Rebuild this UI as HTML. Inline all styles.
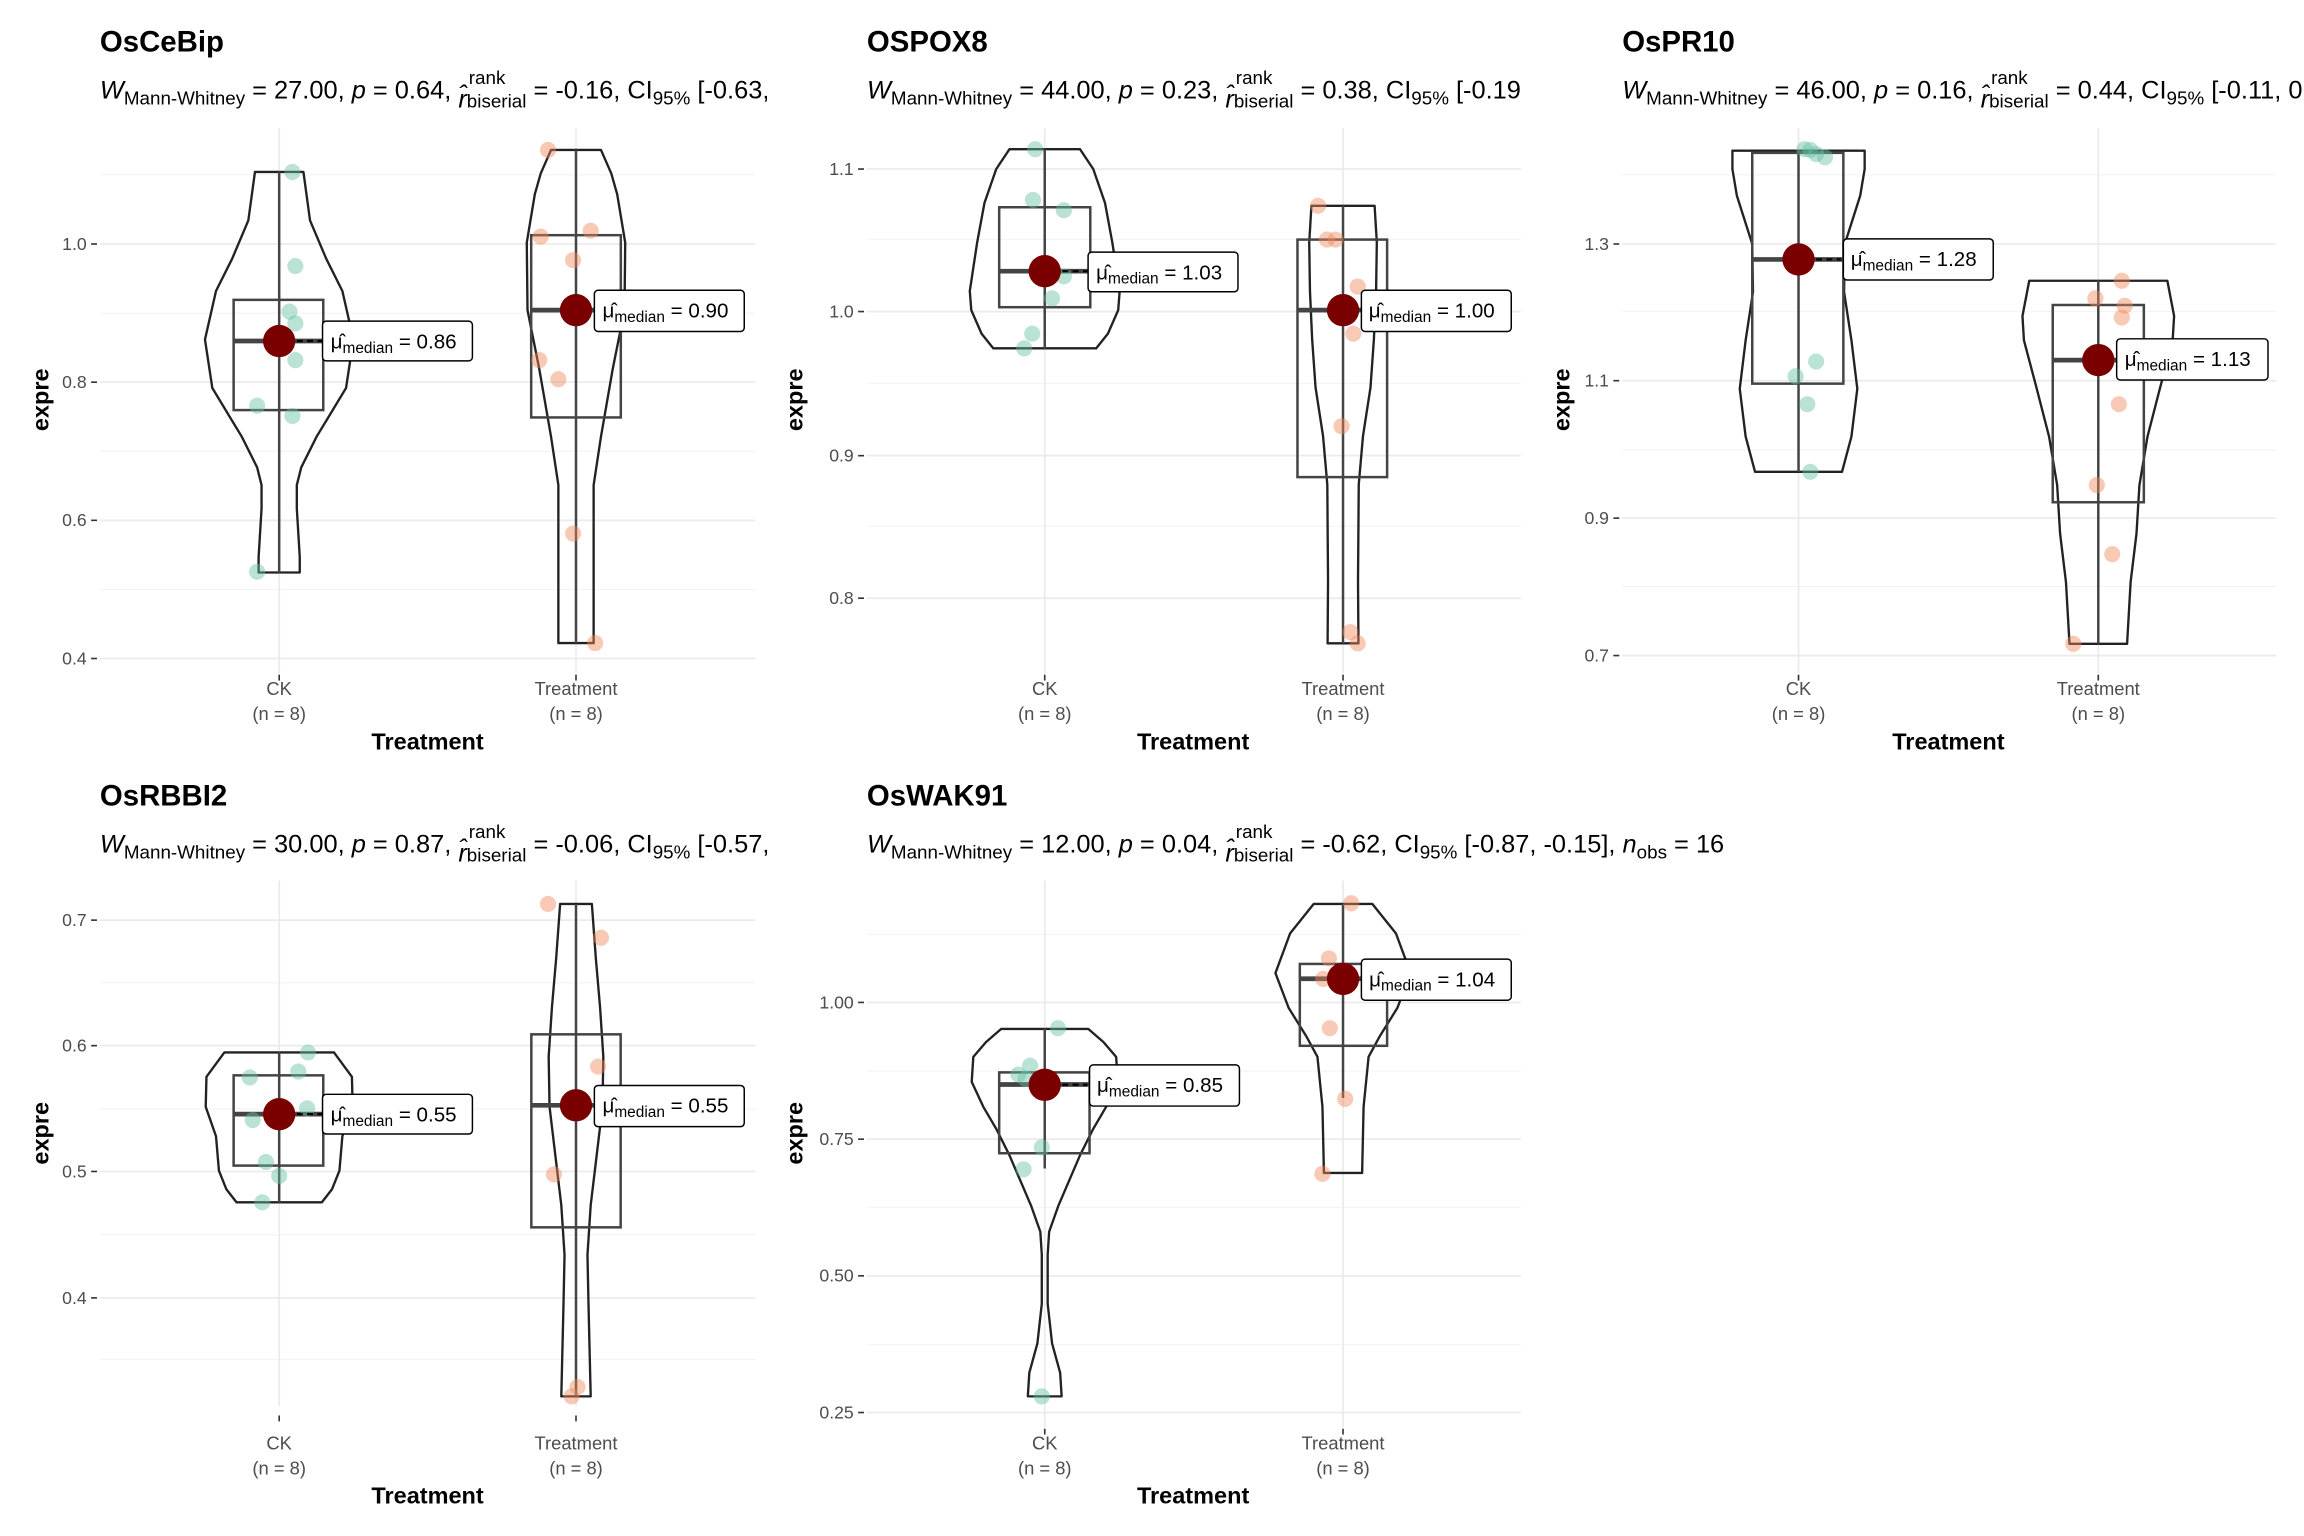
<!DOCTYPE html>
<html><head><meta charset="utf-8">
<style>
html,body{margin:0;padding:0;background:#fff;}
#root{position:relative;width:1568px;height:1045px;transform:scale(1.46939,1.46986);transform-origin:0 0;font-family:"Liberation Sans",Arial,sans-serif;}
.panel{position:absolute;overflow:hidden;}
.panel svg{position:absolute;left:0;top:0;}
.sub{position:absolute;left:68px;top:46px;white-space:nowrap;font-size:17.3px;line-height:20px;color:#000;}
.sub i{font-style:italic;}
.sub .s{font-size:12.8px;vertical-align:-4px;}
.rr{display:inline-block;vertical-align:-6px;font-size:12.8px;line-height:14px;text-align:left;}
.rr i{font-size:17.3px;}
.lab{position:absolute;box-sizing:border-box;border:1px solid #000;border-radius:3px;background:#fff;font-size:14px;white-space:nowrap;padding-left:5px;color:#000;}
.lab .s{font-size:10.5px;vertical-align:-3px;}
text{font-family:"Liberation Sans",Arial,sans-serif;}
.tl{font-size:12px;fill:#4d4d4d;text-anchor:end;}
.xl{font-size:12.5px;fill:#4d4d4d;text-anchor:middle;}
.at{font-size:16px;font-weight:bold;fill:#000;text-anchor:middle;}
.tt{font-size:20px;font-weight:bold;fill:#000;}
.gM{stroke:#ebebeb;stroke-width:1.2;}
.gm{stroke:#f2f2f2;stroke-width:0.7;}
.tk{stroke:#333;stroke-width:1.1;}
.vio{fill:none;stroke:#222;stroke-width:1.6;stroke-linejoin:round;}
.box{fill:none;stroke:#444;stroke-width:1.7;}
.med{stroke:#444;stroke-width:3.2;}
.ck{fill:#66c2a5;opacity:0.45;}
.tr{fill:#f08a5d;opacity:0.45;}
.dot{fill:#7a0000;}
.dl{stroke:#000;stroke-width:1.5;stroke-dasharray:4,3;}
</style></head><body>
<div id="root">

<!-- Panel 1 -->
<div class="panel" style="left:0;top:0;width:522px;height:513px;">
<svg width="522" height="513">
<text class="tt" x="68" y="35">OsCeBip</text>
<g>
<line class="gm" x1="68" x2="514" y1="119" y2="119"/><line class="gm" x1="68" x2="514" y1="213" y2="213"/><line class="gm" x1="68" x2="514" y1="307" y2="307"/><line class="gm" x1="68" x2="514" y1="401" y2="401"/>
<line class="gM" x1="68" x2="514" y1="166" y2="166"/><line class="gM" x1="68" x2="514" y1="260" y2="260"/><line class="gM" x1="68" x2="514" y1="354" y2="354"/><line class="gM" x1="68" x2="514" y1="448" y2="448"/>
<line class="gM" x1="190" x2="190" y1="87" y2="458"/><line class="gM" x1="392" x2="392" y1="87" y2="458"/>
<line class="tk" x1="62" x2="66" y1="166" y2="166"/><line class="tk" x1="62" x2="66" y1="260" y2="260"/><line class="tk" x1="62" x2="66" y1="354" y2="354"/><line class="tk" x1="62" x2="66" y1="448" y2="448"/>
<line class="tk" x1="190" x2="190" y1="459" y2="463"/><line class="tk" x1="392" x2="392" y1="459" y2="463"/>
<text class="tl" x="59" y="170">1.0</text><text class="tl" x="59" y="264">0.8</text><text class="tl" x="59" y="358">0.6</text><text class="tl" x="59" y="452">0.4</text>
<text class="xl" x="190" y="473">CK</text><text class="xl" x="190" y="490">(n = 8)</text>
<text class="xl" x="392" y="473">Treatment</text><text class="xl" x="392" y="490">(n = 8)</text>
<text class="at" x="291" y="510">Treatment</text>
<text class="at" transform="translate(33,272) rotate(-90)">expre</text>
</g>
<g transform="translate(190,0)"><path id="v1a" class="vio" d="M0,117 L16.5,117 L21,150 L32,176 L43,198 L50.5,231 L45.5,264 L34,283 L25.5,297 L15,318 L12,330 L12,346 L14,379 L14,389.5 L0,389.5"/><use href="#v1a" transform="scale(-1,1)"/></g>
<g transform="translate(392,0)"><path id="v1b" class="vio" d="M0,102 L17,102 L24,118 L28,132 L33.5,165 L33,211 L25,251 L17,297 L12,330 L12,395 L12,437.5 L0,437.5"/><use href="#v1b" transform="scale(-1,1)"/></g>
<line class="box" x1="190" x2="190" y1="117" y2="389.5"/><rect class="box" x="159" y="204" width="61" height="75"/><line class="med" x1="159" x2="220" y1="232" y2="232"/>
<line class="box" x1="392" x2="392" y1="102" y2="437.5"/><rect class="box" x="361.5" y="160" width="61" height="124"/><line class="med" x1="361.5" x2="422.5" y1="211" y2="211"/>
<circle class="ck" cx="199" cy="117" r="5.5"/><circle class="ck" cx="201" cy="181" r="5.5"/><circle class="ck" cx="197" cy="212" r="5.5"/><circle class="ck" cx="201" cy="220" r="5.5"/><circle class="ck" cx="201" cy="245" r="5.5"/><circle class="ck" cx="175" cy="276" r="5.5"/><circle class="ck" cx="199" cy="283" r="5.5"/><circle class="ck" cx="175" cy="389" r="5.5"/>
<circle class="tr" cx="373" cy="102" r="5.5"/><circle class="tr" cx="368" cy="161" r="5.5"/><circle class="tr" cx="402" cy="157" r="5.5"/><circle class="tr" cx="390" cy="177" r="5.5"/><circle class="tr" cx="367" cy="245" r="5.5"/><circle class="tr" cx="380" cy="258" r="5.5"/><circle class="tr" cx="390" cy="363" r="5.5"/><circle class="tr" cx="405" cy="437.5" r="5.5"/>
<line class="dl" x1="195" x2="219" y1="232" y2="232"/><line class="dl" x1="397" x2="404" y1="211" y2="211"/>
<circle class="dot" cx="190" cy="232" r="11"/><circle class="dot" cx="392" cy="211" r="11"/>
</svg>
<div class="sub"><i>W</i><span class="s">Mann-Whitney</span> = 27.00, <i>p</i> = 0.64, <span class="rr"><span>&nbsp;&nbsp;rank</span><br><i>r̂</i>biserial</span> = -0.16, CI<span class="s">95%</span> [-0.63, 0.42], <i>n</i><span class="s">obs</span> = 16</div>
<div class="lab" style="left:219px;top:218px;width:103px;height:28px;line-height:26px;">μ̂<span class="s">median</span> = 0.86</div>
<div class="lab" style="left:404px;top:197px;width:103px;height:29px;line-height:27px;">μ̂<span class="s">median</span> = 0.90</div>
</div>

<!-- Panel 2 -->
<div class="panel" style="left:522px;top:0;width:514px;height:513px;">
<svg width="514" height="513">
<text class="tt" x="68" y="35">OSPOX8</text>
<line class="gm" x1="68" x2="513" y1="163" y2="163"/><line class="gm" x1="68" x2="513" y1="261" y2="261"/><line class="gm" x1="68" x2="513" y1="358" y2="358"/>
<line class="gM" x1="68" x2="513" y1="115" y2="115"/><line class="gM" x1="68" x2="513" y1="212" y2="212"/><line class="gM" x1="68" x2="513" y1="310" y2="310"/><line class="gM" x1="68" x2="513" y1="407" y2="407"/>
<line class="gM" x1="189" x2="189" y1="87" y2="458"/><line class="gM" x1="392" x2="392" y1="87" y2="458"/>
<line class="tk" x1="62" x2="66" y1="115" y2="115"/><line class="tk" x1="62" x2="66" y1="212" y2="212"/><line class="tk" x1="62" x2="66" y1="310" y2="310"/><line class="tk" x1="62" x2="66" y1="407" y2="407"/>
<line class="tk" x1="189" x2="189" y1="459" y2="463"/><line class="tk" x1="392" x2="392" y1="459" y2="463"/>
<text class="tl" x="59" y="119">1.1</text><text class="tl" x="59" y="216">1.0</text><text class="tl" x="59" y="314">0.9</text><text class="tl" x="59" y="411">0.8</text>
<text class="xl" x="189" y="473">CK</text><text class="xl" x="189" y="490">(n = 8)</text>
<text class="xl" x="392" y="473">Treatment</text><text class="xl" x="392" y="490">(n = 8)</text>
<text class="at" x="290" y="510">Treatment</text>
<text class="at" transform="translate(24,272) rotate(-90)">expre</text>
<g transform="translate(189,0)"><path id="v2a" class="vio" d="M0,101.5 L24,101.5 L33,115 L41,138 L46,165 L51,198 L50,211 L43,227 L35,237 L0,237"/><use href="#v2a" transform="scale(-1,1)"/></g>
<g transform="translate(392,0)"><path id="v2b" class="vio" d="M0,140 L21.5,140 L23,165 L22.5,198 L21,231 L18.7,263.6 L13.6,296.6 L10.7,329.6 L10.2,395.5 L10.5,437.7 L0,437.7"/><use href="#v2b" transform="scale(-1,1)"/></g>
<line class="box" x1="189" x2="189" y1="101.5" y2="237"/><rect class="box" x="158" y="141" width="62" height="68"/><line class="med" x1="158" x2="220" y1="184.5" y2="184.5"/>
<line class="box" x1="392" x2="392" y1="140" y2="437.7"/><rect class="box" x="361" y="163" width="61" height="161.6"/><line class="med" x1="361" x2="422" y1="211" y2="211"/>
<circle class="ck" cx="182.5" cy="101.5" r="5.5"/><circle class="ck" cx="181" cy="136" r="5.5"/><circle class="ck" cx="202" cy="143" r="5.5"/><circle class="ck" cx="202" cy="188" r="5.5"/><circle class="ck" cx="194" cy="203" r="5.5"/><circle class="ck" cx="180.5" cy="227" r="5.5"/><circle class="ck" cx="175" cy="237" r="5.5"/><circle class="ck" cx="192" cy="184" r="5.5"/>
<circle class="tr" cx="375" cy="140" r="5.5"/><circle class="tr" cx="381" cy="163" r="5.5"/><circle class="tr" cx="387" cy="163" r="5.5"/><circle class="tr" cx="402" cy="195" r="5.5"/><circle class="tr" cx="399" cy="227" r="5.5"/><circle class="tr" cx="391" cy="290" r="5.5"/><circle class="tr" cx="397" cy="430" r="5.5"/><circle class="tr" cx="402" cy="437.7" r="5.5"/>
<line class="dl" x1="194" x2="218" y1="184.5" y2="184.5"/><line class="dl" x1="397" x2="403" y1="211" y2="211"/>
<circle class="dot" cx="189" cy="184.5" r="11"/><circle class="dot" cx="392" cy="211" r="11"/>
</svg>
<div class="sub"><i>W</i><span class="s">Mann-Whitney</span> = 44.00, <i>p</i> = 0.23, <span class="rr"><span>&nbsp;&nbsp;rank</span><br><i>r̂</i>biserial</span> = 0.38, CI<span class="s">95%</span> [-0.19, 0.76], <i>n</i><span class="s">obs</span> = 16</div>
<div class="lab" style="left:218px;top:171px;width:103px;height:28px;line-height:26px;">μ̂<span class="s">median</span> = 1.03</div>
<div class="lab" style="left:403.5px;top:197px;width:103.5px;height:29px;line-height:27px;">μ̂<span class="s">median</span> = 1.00</div>
</div>

<!-- Panel 3 -->
<div class="panel" style="left:1036px;top:0;width:532px;height:513px;">
<svg width="532" height="513">
<text class="tt" x="68" y="35">OsPR10</text>
<line class="gm" x1="68" x2="513" y1="119" y2="119"/><line class="gm" x1="68" x2="513" y1="212" y2="212"/><line class="gm" x1="68" x2="513" y1="306" y2="306"/><line class="gm" x1="68" x2="513" y1="399" y2="399"/>
<line class="gM" x1="68" x2="513" y1="166" y2="166"/><line class="gM" x1="68" x2="513" y1="259" y2="259"/><line class="gM" x1="68" x2="513" y1="352.5" y2="352.5"/><line class="gM" x1="68" x2="513" y1="446" y2="446"/>
<line class="gM" x1="188" x2="188" y1="87" y2="458"/><line class="gM" x1="392" x2="392" y1="87" y2="458"/>
<line class="tk" x1="62" x2="66" y1="166" y2="166"/><line class="tk" x1="62" x2="66" y1="259" y2="259"/><line class="tk" x1="62" x2="66" y1="352.5" y2="352.5"/><line class="tk" x1="62" x2="66" y1="446" y2="446"/>
<line class="tk" x1="188" x2="188" y1="459" y2="463"/><line class="tk" x1="392" x2="392" y1="459" y2="463"/>
<text class="tl" x="59" y="170">1.3</text><text class="tl" x="59" y="263">1.1</text><text class="tl" x="59" y="356.5">0.9</text><text class="tl" x="59" y="450">0.7</text>
<text class="xl" x="188" y="473">CK</text><text class="xl" x="188" y="490">(n = 8)</text>
<text class="xl" x="392" y="473">Treatment</text><text class="xl" x="392" y="490">(n = 8)</text>
<text class="at" x="290" y="510">Treatment</text>
<text class="at" transform="translate(32,272) rotate(-90)">expre</text>
<g transform="translate(188,0)"><path id="v3a" class="vio" d="M0,102.5 L45,102.5 L45,115 L42,133 L31.5,166 L31,198.6 L36,231.5 L40,264.5 L36,297 L29.6,321 L0,321"/><use href="#v3a" transform="scale(-1,1)"/></g>
<g transform="translate(392,0)"><path id="v3b" class="vio" d="M0,191 L47,191 L51.6,215 L50.6,231.5 L42,264 L33.5,297 L28,330 L26,363 L22,396 L19.6,438 L0,438"/><use href="#v3b" transform="scale(-1,1)"/></g>
<line class="box" x1="188" x2="188" y1="102.5" y2="321"/><rect class="box" x="156.5" y="104" width="62" height="157"/><line class="med" x1="156.5" x2="218.5" y1="176.5" y2="176.5"/>
<line class="box" x1="392" x2="392" y1="191" y2="438"/><rect class="box" x="361" y="207.5" width="62" height="134.2"/><line class="med" x1="361" x2="423" y1="245" y2="245"/>
<circle class="ck" cx="192" cy="101.5" r="5.5"/><circle class="ck" cx="196" cy="102" r="5.5"/><circle class="ck" cx="200" cy="104.8" r="5.5"/><circle class="ck" cx="206" cy="107" r="5.5"/><circle class="ck" cx="200" cy="246" r="5.5"/><circle class="ck" cx="186" cy="256" r="5.5"/><circle class="ck" cx="194" cy="275" r="5.5"/><circle class="ck" cx="196" cy="321" r="5.5"/>
<circle class="tr" cx="408" cy="191" r="5.5"/><circle class="tr" cx="390" cy="203" r="5.5"/><circle class="tr" cx="410" cy="208" r="5.5"/><circle class="tr" cx="408" cy="216" r="5.5"/><circle class="tr" cx="406" cy="275" r="5.5"/><circle class="tr" cx="391" cy="330" r="5.5"/><circle class="tr" cx="401.5" cy="377" r="5.5"/><circle class="tr" cx="375" cy="438" r="5.5"/>
<line class="dl" x1="193" x2="217" y1="176.5" y2="176.5"/><line class="dl" x1="397" x2="404" y1="245" y2="245"/>
<circle class="dot" cx="188" cy="176.5" r="11"/><circle class="dot" cx="392" cy="245" r="11"/>
</svg>
<div class="sub"><i>W</i><span class="s">Mann-Whitney</span> = 46.00, <i>p</i> = 0.16, <span class="rr"><span>&nbsp;&nbsp;rank</span><br><i>r̂</i>biserial</span> = 0.44, CI<span class="s">95%</span> [-0.11, 0.78], <i>n</i><span class="s">obs</span> = 16</div>
<div class="lab" style="left:217.5px;top:162px;width:103.5px;height:29px;line-height:27px;">μ̂<span class="s">median</span> = 1.28</div>
<div class="lab" style="left:404px;top:230px;width:104px;height:29px;line-height:27px;">μ̂<span class="s">median</span> = 1.13</div>
</div>

<!-- Panel 4 -->
<div class="panel" style="left:0;top:513px;width:522px;height:532px;">
<svg width="522" height="532">
<text class="tt" x="68" y="35">OsRBBI2</text>
<line class="gm" x1="68" x2="514" y1="155.7" y2="155.7"/><line class="gm" x1="68" x2="514" y1="241.5" y2="241.5"/><line class="gm" x1="68" x2="514" y1="327" y2="327"/><line class="gm" x1="68" x2="514" y1="412" y2="412"/>
<line class="gM" x1="68" x2="514" y1="113" y2="113"/><line class="gM" x1="68" x2="514" y1="198.4" y2="198.4"/><line class="gM" x1="68" x2="514" y1="284" y2="284"/><line class="gM" x1="68" x2="514" y1="370" y2="370"/>
<line class="gM" x1="190" x2="190" y1="86" y2="444"/><line class="gM" x1="392" x2="392" y1="86" y2="444"/>
<line class="tk" x1="62" x2="66" y1="113" y2="113"/><line class="tk" x1="62" x2="66" y1="198.4" y2="198.4"/><line class="tk" x1="62" x2="66" y1="284" y2="284"/><line class="tk" x1="62" x2="66" y1="370" y2="370"/>
<line class="tk" x1="190" x2="190" y1="450" y2="454"/><line class="tk" x1="392" x2="392" y1="450" y2="454"/>
<text class="tl" x="59" y="117">0.7</text><text class="tl" x="59" y="202.4">0.6</text><text class="tl" x="59" y="288">0.5</text><text class="tl" x="59" y="374">0.4</text>
<text class="xl" x="190" y="473">CK</text><text class="xl" x="190" y="490">(n = 8)</text>
<text class="xl" x="392" y="473">Treatment</text><text class="xl" x="392" y="490">(n = 8)</text>
<text class="at" x="291" y="510">Treatment</text>
<text class="at" transform="translate(33,258) rotate(-90)">expre</text>
<g transform="translate(190,0)"><path id="v4a" class="vio" d="M0,203 L37.3,203 L49.5,219.6 L50,240 L43,260 L41,283.5 L36,296 L29,305 L0,305"/><use href="#v4a" transform="scale(-1,1)"/></g>
<g transform="translate(392,0)"><path id="v4b" class="vio" d="M0,102 L10.8,102 L13.5,139 L16.4,172.6 L18.6,206 L18,240 L14,273.6 L10,307 L7.8,340.7 L8.5,374 L10,437 L0,437"/><use href="#v4b" transform="scale(-1,1)"/></g>
<line class="box" x1="190" x2="190" y1="203" y2="305"/><rect class="box" x="159" y="218.6" width="61" height="61.4"/><line class="med" x1="159" x2="220" y1="245" y2="245"/>
<line class="box" x1="392" x2="392" y1="102" y2="437"/><rect class="box" x="361.6" y="190.7" width="60.8" height="131.3"/><line class="med" x1="361.6" x2="422.4" y1="239" y2="239"/>
<circle class="ck" cx="209.6" cy="203" r="5.5"/><circle class="ck" cx="170" cy="220" r="5.5"/><circle class="ck" cx="203" cy="216" r="5.5"/><circle class="ck" cx="209" cy="241" r="5.5"/><circle class="ck" cx="172" cy="249" r="5.5"/><circle class="ck" cx="181" cy="277.5" r="5.5"/><circle class="ck" cx="190" cy="287" r="5.5"/><circle class="ck" cx="178.5" cy="305" r="5.5"/>
<circle class="tr" cx="373" cy="102" r="5.5"/><circle class="tr" cx="409" cy="125" r="5.5"/><circle class="tr" cx="407" cy="212.6" r="5.5"/><circle class="tr" cx="377" cy="286" r="5.5"/><circle class="tr" cx="393" cy="430.6" r="5.5"/><circle class="tr" cx="389" cy="437" r="5.5"/><circle class="tr" cx="392" cy="239" r="5.5"/>
<line class="dl" x1="195" x2="219" y1="245" y2="245"/><line class="dl" x1="397" x2="404" y1="239" y2="239"/>
<circle class="dot" cx="190" cy="245" r="11"/><circle class="dot" cx="392" cy="239" r="11"/>
</svg>
<div class="sub"><i>W</i><span class="s">Mann-Whitney</span> = 30.00, <i>p</i> = 0.87, <span class="rr"><span>&nbsp;&nbsp;rank</span><br><i>r̂</i>biserial</span> = -0.06, CI<span class="s">95%</span> [-0.57, 0.48], <i>n</i><span class="s">obs</span> = 16</div>
<div class="lab" style="left:219px;top:231px;width:103px;height:28px;line-height:26px;">μ̂<span class="s">median</span> = 0.55</div>
<div class="lab" style="left:404px;top:225px;width:103px;height:29px;line-height:27px;">μ̂<span class="s">median</span> = 0.55</div>
</div>

<!-- Panel 5 -->
<div class="panel" style="left:522px;top:513px;width:1046px;height:532px;">
<svg width="1046" height="532">
<text class="tt" x="68" y="35">OsWAK91</text>
<line class="gm" x1="68" x2="513" y1="122.7" y2="122.7"/><line class="gm" x1="68" x2="513" y1="215.7" y2="215.7"/><line class="gm" x1="68" x2="513" y1="308.6" y2="308.6"/><line class="gm" x1="68" x2="513" y1="401.6" y2="401.6"/>
<line class="gM" x1="68" x2="513" y1="169" y2="169"/><line class="gM" x1="68" x2="513" y1="262" y2="262"/><line class="gM" x1="68" x2="513" y1="355" y2="355"/><line class="gM" x1="68" x2="513" y1="448" y2="448"/>
<line class="gM" x1="189" x2="189" y1="86" y2="458"/><line class="gM" x1="392" x2="392" y1="86" y2="458"/>
<line class="tk" x1="62" x2="66" y1="169" y2="169"/><line class="tk" x1="62" x2="66" y1="262" y2="262"/><line class="tk" x1="62" x2="66" y1="355" y2="355"/><line class="tk" x1="62" x2="66" y1="448" y2="448"/>
<line class="tk" x1="189" x2="189" y1="459" y2="463"/><line class="tk" x1="392" x2="392" y1="459" y2="463"/>
<text class="tl" x="59" y="173">1.00</text><text class="tl" x="59" y="266">0.75</text><text class="tl" x="59" y="359">0.50</text><text class="tl" x="59" y="452">0.25</text>
<text class="xl" x="189" y="473">CK</text><text class="xl" x="189" y="490">(n = 8)</text>
<text class="xl" x="392" y="473">Treatment</text><text class="xl" x="392" y="490">(n = 8)</text>
<text class="at" x="290" y="510">Treatment</text>
<text class="at" transform="translate(24,258) rotate(-90)">expre</text>
<g transform="translate(189,0)"><path id="v5a" class="vio" d="M0,187 L29.6,187 L40,196 L48.6,206 L49.7,223 L41.8,240 L33,255 L24,273 L9.4,307 L3,325 L2,340.7 L2,374 L5,401 L10.5,421 L11.5,437 L0,437"/><use href="#v5a" transform="scale(-1,1)"/></g>
<g transform="translate(392,0)"><path id="v5b" class="vio" d="M0,102 L20,102 L36,122 L46,149 L37,172.7 L25,192 L17.4,206 L14,240 L13,285 L0,285"/><use href="#v5b" transform="scale(-1,1)"/></g>
<line class="box" x1="189" x2="189" y1="187" y2="282"/><rect class="box" x="158" y="216.6" width="61.5" height="55"/><line class="med" x1="158" x2="219.5" y1="224.8" y2="224.8"/>
<line class="box" x1="392" x2="392" y1="102" y2="234"/><rect class="box" x="362.6" y="142.8" width="59.4" height="55.7"/><line class="med" x1="362.6" x2="422" y1="152.9" y2="152.9"/>
<circle class="ck" cx="198" cy="186.5" r="5.5"/><circle class="ck" cx="179" cy="212" r="5.5"/><circle class="ck" cx="171" cy="218" r="5.5"/><circle class="ck" cx="176" cy="221" r="5.5"/><circle class="ck" cx="187" cy="267.6" r="5.5"/><circle class="ck" cx="174.6" cy="282.5" r="5.5"/><circle class="ck" cx="187" cy="437" r="5.5"/><circle class="ck" cx="183" cy="225" r="5.5"/>
<circle class="tr" cx="397.6" cy="101.5" r="5.5"/><circle class="tr" cx="382.4" cy="139" r="5.5"/><circle class="tr" cx="378.5" cy="153" r="5.5"/><circle class="tr" cx="383" cy="186.5" r="5.5"/><circle class="tr" cx="393.5" cy="234.6" r="5.5"/><circle class="tr" cx="378" cy="285.6" r="5.5"/>
<line class="dl" x1="194" x2="218" y1="225" y2="225"/><line class="dl" x1="397" x2="404" y1="153" y2="153"/>
<circle class="dot" cx="189" cy="225" r="11"/><circle class="dot" cx="392" cy="153" r="11"/>
</svg>
<div class="sub"><i>W</i><span class="s">Mann-Whitney</span> = 12.00, <i>p</i> = 0.04, <span class="rr"><span>&nbsp;&nbsp;rank</span><br><i>r̂</i>biserial</span> = -0.62, CI<span class="s">95%</span> [-0.87, -0.15], <i>n</i><span class="s">obs</span> = 16</div>
<div class="lab" style="left:218.6px;top:211px;width:103px;height:29px;line-height:27px;">μ̂<span class="s">median</span> = 0.85</div>
<div class="lab" style="left:403.8px;top:139px;width:103.2px;height:29px;line-height:27px;">μ̂<span class="s">median</span> = 1.04</div>
</div>

</div>
</body></html>
